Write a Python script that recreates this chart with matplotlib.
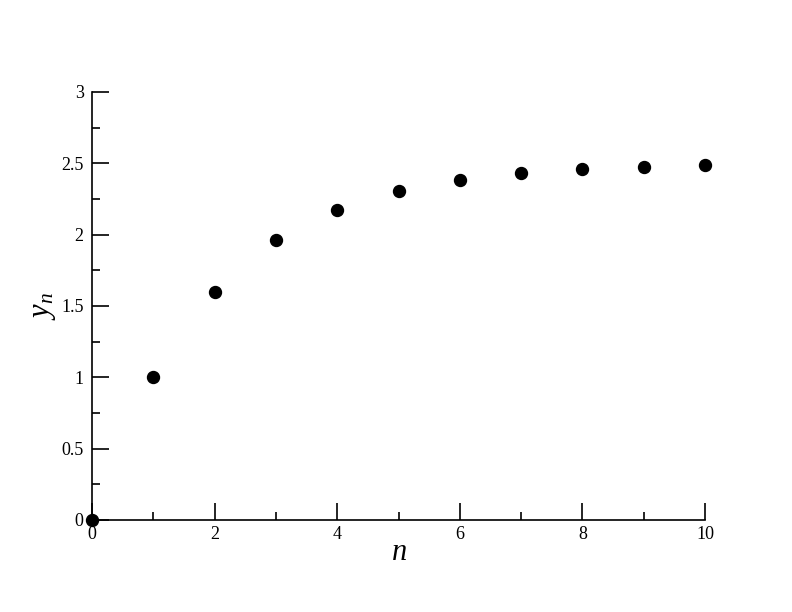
import matplotlib
matplotlib.use("Agg")
import matplotlib.pyplot as plt
from matplotlib.ticker import MultipleLocator

n_vals = [0, 1, 2, 3, 4, 5, 6, 7, 8, 9, 10]
y_vals = [0.0, 1.0, 1.6, 1.96, 2.176, 2.306, 2.383, 2.43, 2.458, 2.475, 2.485]
x_ticks = [0, 2, 4, 6, 8, 10]
y_ticks = [0, 0.5, 1, 1.5, 2, 2.5, 3]
y_tick_labels = ["0", "0.5", "1", "1.5", "2", "2.5", "3"]

plt.rcParams['font.family'] = ['Liberation Serif', 'DejaVu Serif']
plt.rcParams['mathtext.fontset'] = 'custom'
plt.rcParams['mathtext.rm'] = 'Liberation Serif'
plt.rcParams['mathtext.it'] = 'Liberation Serif:italic'

fig = plt.figure(figsize=(7.92, 6.12), dpi=100)
ax = fig.add_axes([92/792, 92/612, (705-92)/792, (520-92)/612])

ax.plot(n_vals, y_vals, 'o', color='black', markersize=8.6, clip_on=False, zorder=3)

ax.set_xlim(0, 10)
ax.set_ylim(0, 3)
ax.spines['top'].set_visible(False)
ax.spines['right'].set_visible(False)
for s in ['left', 'bottom']:
    ax.spines[s].set_linewidth(1.2)

ax.set_xticks(x_ticks)
ax.set_xticklabels([str(t) for t in x_ticks])
ax.set_yticks(y_ticks)
ax.set_yticklabels(y_tick_labels)
ax.xaxis.set_minor_locator(MultipleLocator(1))
ax.yaxis.set_minor_locator(MultipleLocator(0.25))
ax.tick_params(which='major', direction='in', length=12, width=1.2, labelsize=13, color='black')
ax.tick_params(which='minor', direction='in', length=6, width=1.2)
ax.tick_params(axis='x', which='major', pad=4)
ax.tick_params(axis='y', which='major', pad=6)
ax.tick_params(top=False, right=False, which='both')

ax.set_xlabel('$n$', fontsize=22, labelpad=-3)
ax.set_ylabel('$y_n$', fontsize=22, labelpad=2)

fig.savefig('out.png', dpi=100)
